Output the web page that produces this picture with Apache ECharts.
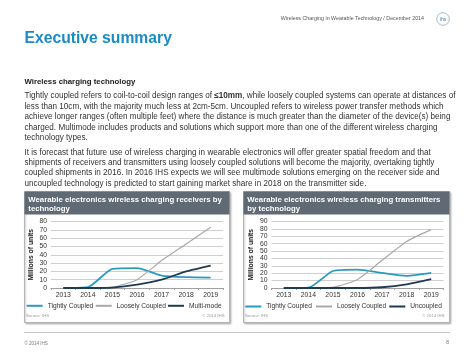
<!DOCTYPE html>
<html><head><meta charset="utf-8">
<script src="https://cdn.jsdelivr.net/npm/echarts@6/dist/echarts.min.js"></script>
<style>html,body{margin:0;padding:0;background:#fff;}#c{width:474px;height:355px;}</style>
</head><body><div id="c"></div>
<script>
// ---- data ----
const years = ['2013', '2014', '2015', '2016', '2017', '2018', '2019'];
const recvTightly = [0, 1, 23, 24, 15, 13, 12.5];
const recvLoosely = [0, 0, 1, 10, 33, 53, 73];
const recvMultimode = [0, 0, 0.5, 4, 10, 20, 27];
const transTightly = [0, 0.5, 23, 25, 20.5, 16.5, 20.5];
const transLoosely = [0, 0, 1, 11.5, 37.5, 63, 79];
const transUncoupled = [0, 0, 0, 0, 1, 5, 12];
const seriesNames = ['Tightly Coupled', 'Loosely Coupled', 'Multi-mode', 'Uncoupled'];
const chartTitles = [
  ['Wearable electronics wireless charging receivers by', 'technology'],
  ['Wearable electronics wireless charging transmitters', 'by technology']
];
const yAxisName = 'Millions of units';
const para1 = [
  ['Tightly coupled refers to coil-to-coil design ranges of ', '≤10mm', ', while loosely coupled systems can operate at distances of'],
  ['less than 10cm, with the majority much less at 2cm-5cm. Uncoupled refers to wireless power transfer methods which'],
  ['achieve longer ranges (often multiple feet) where the distance is much greater than the diameter of the device(s) being'],
  ['charged. Multimode includes products and solutions which support more than one of the different wireless charging'],
  ['technology types.']
];
const para2 = [
  'It is forecast that future use of wireless charging in wearable electronics will offer greater spatial freedom and that',
  'shipments of receivers and transmitters using loosely coupled solutions will become the majority, overtaking tightly',
  'coupled shipments in 2016. In 2016 IHS expects we will see multimode solutions emerging on the receiver side and',
  'uncoupled technology is predicted to start gaining market share in 2018 on the transmitter side.'
];

// ---- styling ----
const FF = '"Liberation Sans", Arial, Helvetica, sans-serif';
const C_TIGHT = '#2a9bbf', C_LOOSE = '#a9a9a9', C_DARK = '#1f3a52';
const TXT = '#333333';
const PF = 8.15;

const g = [];
function txt(x, y, s, size, opts) {
  opts = opts || {};
  g.push({
    type: 'text', x: x, y: y, silent: true, z: 10,
    style: Object.assign({
      text: s, font: (opts.bold ? 'bold ' : '') + size + 'px ' + FF,
      fill: opts.fill || TXT,
      textAlign: opts.align || 'left', align: opts.align || 'left',
      textVerticalAlign: 'middle', verticalAlign: 'middle'
    }, opts.extra || {})
  });
}
// header
txt(424, 19, 'Wireless Charging in Wearable Technology / December 2014', 5.3, {fill: '#555', align: 'right'});
g.push({type: 'circle', shape: {cx: 443, cy: 19, r: 6.3}, style: {fill: '#fff', stroke: '#8fa9bd', lineWidth: 0.8}, silent: true});
txt(443, 19.3, 'ihs', 5, {fill: '#4a7fa8', align: 'center'});
txt(24.5, 39, 'Executive summary', 15.7, {bold: true, fill: '#1a8bc6'});
txt(24.5, 81.7, 'Wireless charging technology', 7.8, {bold: true, fill: '#1a1a1a'});

// paragraph 1
const p1y = [96.2, 106.6, 117, 127.3, 137.7];
para1.forEach(function (parts, i) {
  if (parts.length === 3) {
    txt(24.5, p1y[i], '{n|' + parts[0] + '}{b|' + parts[1] + '}{n|' + parts[2] + '}', PF, {
      extra: {rich: {
        n: {font: PF + 'px ' + FF, fill: TXT},
        b: {font: 'bold ' + PF + 'px ' + FF, fill: TXT}
      }}
    });
  } else {
    txt(24.5, p1y[i], parts[0], PF);
  }
});
const p2y = [152.4, 162.7, 173, 183.3];
para2.forEach(function (s, i) { txt(24.5, p2y[i], s, PF); });

// chart boxes
const boxes = [{x: 24.5, w: 205}, {x: 243.5, w: 206}];
boxes.forEach(function (b, i) {
  g.push({type: 'rect', z: 0, silent: true, shape: {x: b.x, y: 191.5, width: b.w, height: 131},
    style: {fill: '#fff', stroke: '#b5b5b5', lineWidth: 1, shadowBlur: 2, shadowColor: 'rgba(0,0,0,0.25)', shadowOffsetX: 1, shadowOffsetY: 1}});
  g.push({type: 'rect', z: 1, silent: true, shape: {x: b.x, y: 191.5, width: b.w, height: 23},
    style: {fill: '#5f6a74'}});
  txt(b.x + 3.8, 200, chartTitles[i][0], 7.8, {bold: true, fill: '#fff'});
  txt(b.x + 3.8, 209, chartTitles[i][1], 7.8, {bold: true, fill: '#fff'});
  txt(b.x + 1.5, 315.5, 'Source: IHS', 4.3, {fill: '#999'});
  txt(b.x + b.w - 5, 315.5, '© 2014 IHS', 4.3, {fill: '#999', align: 'right'});
});
// footer
g.push({type: 'line', silent: true, shape: {x1: 24, y1: 332.5, x2: 450, y2: 332.5}, style: {stroke: '#c8c8c8', lineWidth: 1}});
txt(24.5, 343.5, '© 2014 IHS', 4.5, {fill: '#777'});
txt(449, 342.5, '8', 5, {fill: '#777', align: 'right'});

// axes
function xAx(gi) {
  return {type: 'category', gridIndex: gi, data: years, boundaryGap: true,
    axisLine: {lineStyle: {color: '#a0a0a0', width: 1}},
    axisTick: {show: true, length: 2, lineStyle: {color: '#a0a0a0'}},
    axisLabel: {fontSize: 6.8, color: TXT, fontFamily: FF, margin: 4}};
}
function yAx(gi, max, gap) {
  return {type: 'value', gridIndex: gi, min: 0, max: max, interval: 10,
    name: yAxisName, nameLocation: 'middle', nameGap: gap, nameRotate: 90,
    nameTextStyle: {fontSize: 6.8, fontWeight: 'bold', color: '#1a1a1a', fontFamily: FF},
    axisLine: {show: false}, axisTick: {show: false},
    axisLabel: {fontSize: 6.8, color: TXT, fontFamily: FF, margin: 4},
    splitLine: {lineStyle: {color: '#cfcfcf', width: 1}}};
}
function ser(name, data, gi, color, w) {
  return {type: 'line', name: name, data: data, xAxisIndex: gi, yAxisIndex: gi,
    symbol: 'none', smooth: 0.2, lineStyle: {color: color, width: w}, itemStyle: {color: color}};
}
function leg(name, left, top) {
  return {data: [name], left: left, top: top, padding: 0, icon: 'rect', itemWidth: 16, itemHeight: 2,
    textStyle: {fontSize: 6.6, color: TXT, fontFamily: FF}, selectedMode: false};
}

const option = {
  animation: false,
  textStyle: {fontFamily: FF},
  graphic: g,
  grid: [
    {left: 51, top: 221.5, width: 172, height: 66.5},
    {left: 271.5, top: 221.5, width: 172, height: 66.5}
  ],
  xAxis: [xAx(0), xAx(1)],
  yAxis: [yAx(0, 80, 16), yAx(1, 90, 17)],
  legend: [
    leg(seriesNames[0], 26.7, 302.3), leg(seriesNames[1], 95.7, 302.3), leg(seriesNames[2], 168, 302.3),
    leg(seriesNames[0], 245.3, 303), leg(seriesNames[1], 316, 303), leg(seriesNames[3], 389.3, 303)
  ],
  series: [
    ser(seriesNames[0], recvTightly, 0, C_TIGHT, 1.8),
    ser(seriesNames[1], recvLoosely, 0, C_LOOSE, 1.2),
    ser(seriesNames[2], recvMultimode, 0, C_DARK, 1.8),
    ser(seriesNames[0], transTightly, 1, C_TIGHT, 1.8),
    ser(seriesNames[1], transLoosely, 1, C_LOOSE, 1.2),
    ser(seriesNames[3], transUncoupled, 1, C_DARK, 1.8)
  ]
};
const chart = echarts.init(document.getElementById('c'), null, {renderer: 'canvas'});
chart.setOption(option);
</script></body></html>
